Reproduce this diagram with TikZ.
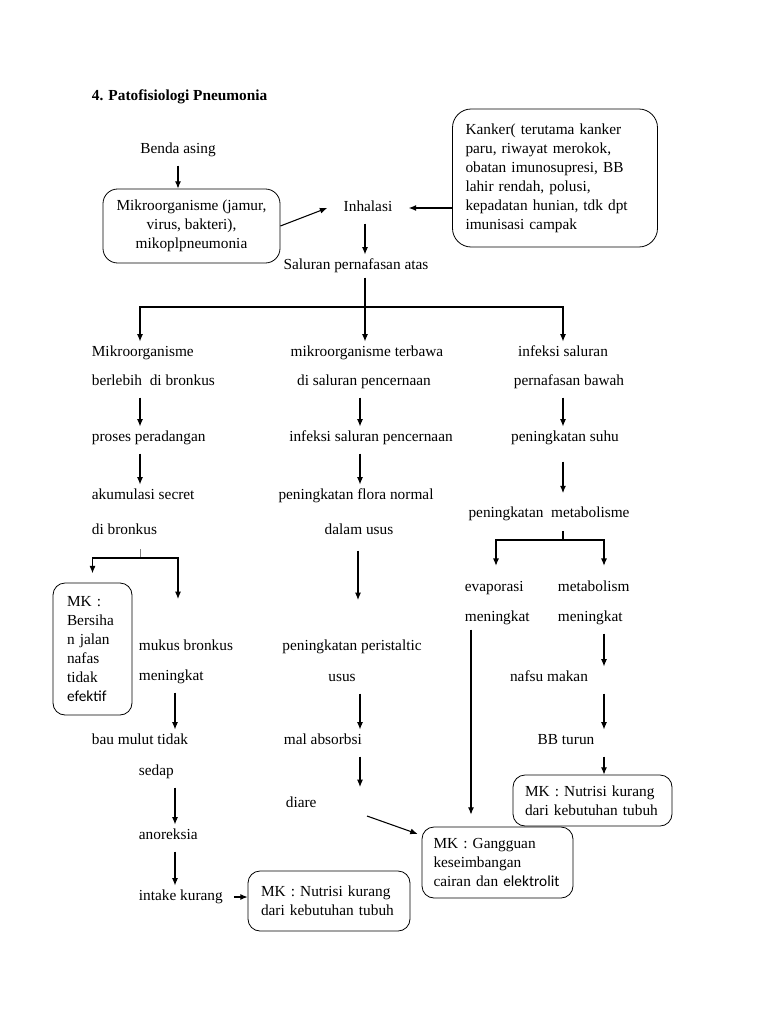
\documentclass[tikz,border=0pt]{standalone}
\usepackage{fontspec}
\setmainfont{Liberation Serif}
\newfontfamily\sansfont{Carlito}
\usetikzlibrary{arrows.meta}

\tikzset{
  txt/.style={inner xsep=1pt, inner ysep=3pt, text height=8pt, text depth=2.5pt, font=\fontsize{11.5}{14}\selectfont},
  lft/.style={txt, anchor=west},
  mkbox/.style={draw, semithick, rounded corners=9pt, align=left, inner ysep=0pt, font=\fontsize{11.5}{14.3}\selectfont},
  arr/.style={->, shorten <=3pt},
}

\begin{document}
\begin{tikzpicture}[x=0.75pt, y=-0.75pt, >={Latex[length=5.5pt,width=4.5pt]}, line width=0.8pt]
		\useasboundingbox (0,0) rectangle (768,1024);
		% kolom panah
		\coordinate (k1) at (140,0);
		\coordinate (k1b) at (175,0);
		\coordinate (k2) at (360,0);
		\coordinate (k2t) at (365,0);
		\coordinate (k3) at (563,0);
		\coordinate (k3a) at (496,0);
		\coordinate (k3b) at (604,0);
		\coordinate (k3e) at (471,0);
		% judul dan bagian atas
		\node[lft, font=\bfseries\fontsize{11.5}{14}\selectfont] (judul) at (90,97) {4. Patofisiologi Pneumonia};
		\node[txt] (benda) at (178,150) {Benda asing};
		\node[mkbox, align=center, rounded corners=11pt, minimum width=177*0.75pt, minimum height=74*0.75pt] (mikro) at (191.5,226) {Mikroorganisme (jamur,\\ virus, bakteri),\\ mikoplpneumonia};
		\node[mkbox, rounded corners=14pt, text width=179*0.75pt, inner xsep=13*0.75pt, minimum height=138*0.75pt] (kanker) at (555,178) {Kanker( terutama kanker\\ paru, riwayat merokok,\\ obatan imunosupresi, BB\\ lahir rendah, polusi,\\ kepadatan hunian, tdk dpt\\ imunisasi campak};
		\node[txt, inner xsep=12pt] (inhal) at (368,208) {Inhalasi};
		\node[txt] (sal) at (356,266) {Saluran pernafasan atas};
		\draw[arr] (benda.south) -- (benda.south |- mikro.north);
		\draw[->] (mikro.east) -- (inhal.west);
		\draw[->] (kanker.west |- inhal) -- (inhal.east);
		\draw[arr] (inhal.south -| k2t) -- (sal.north -| k2t);
		% kolom kiri
		\node[lft] (mik1) at (90,353) {Mikroorganisme};
		\node[lft] (ber) at (90,382) {berlebih\ \ di bronkus};
		\node[lft] (pro) at (90,438) {proses peradangan};
		\node[lft] (aku) at (90,496) {akumulasi secret};
		\node[lft] (dib) at (90,531) {di bronkus};
		\draw[arr] (ber.south -| k1) -- (pro.north -| k1);
		\draw[arr] (pro.south -| k1) -- (aku.north -| k1);
		\node[mkbox, text width=51*0.75pt, inner xsep=14*0.75pt, minimum height=132*0.75pt] (mkj) at (92.5,649) {MK :\\ Bersiha\\ n jalan\\ nafas\\ tidak\\ {\sansfont efektif}};
		\coordinate (cab1) at (140,558);
		\coordinate (ujung1) at (178,599);
		\draw[gray, thin, shorten <=5pt] (dib.south -| cab1) -- (cab1);
		\draw[->, shorten >=7pt] (cab1) -| (mkj.north);
		\draw[->] (cab1) -| (ujung1);
		\node[lft] (muk) at (137,647) {mukus bronkus};
		\node[lft] (mei1) at (137,677) {meningkat};
		\node[lft] (bau) at (90,741) {bau mulut tidak};
		\node[lft] (sed) at (137,772) {sedap};
		\node[lft] (ano) at (137,836) {anoreksia};
		\node[lft] (intk) at (137,897) {intake kurang};
		\draw[arr] (mei1.south -| k1b) -- (bau.north -| k1b);
		\draw[arr] (sed.south -| k1b) -- (ano.north -| k1b);
		\draw[arr] (ano.south -| k1b) -- (intk.north -| k1b);
		\node[mkbox, text width=136*0.75pt, inner xsep=13*0.75pt, minimum height=60*0.75pt] (nut1) at (329,901) {MK : Nutrisi kurang\\ dari kebutuhan tubuh};
		\draw[->, shorten <=7pt] (intk.east) -- (nut1.west |- intk);
		% kolom tengah
		\node[txt] (terb) at (367,353) {mikroorganisme terbawa};
		\node[txt] (dsal) at (364,382) {di saluran pencernaan};
		\node[txt] (infs) at (371,438) {infeksi saluran pencernaan};
		\node[txt] (flora) at (356,496) {peningkatan flora normal};
		\node[txt] (dalam) at (359,531) {dalam usus};
		\draw[arr] (dsal.south -| k2) -- (infs.north -| k2);
		\draw[arr] (infs.south -| k2) -- (flora.north -| k2);
		\coordinate (ujung2) at (358,600);
		\draw[arr, shorten <=6pt] (dalam.south -| ujung2) -- (ujung2);
		\node[txt] (peri) at (352,647) {peningkatan peristaltic};
		\node[txt] (usus) at (342,678) {usus};
		\node[lft] (mal) at (282,741) {mal absorbsi};
		\node[lft] (diare) at (284,804) {diare};
		\draw[arr] (usus.south -| k2) -- (mal.north -| k2);
		\coordinate (ujung3) at (360,787);
		\draw[arr] (mal.south -| ujung3) -- (ujung3);
		\node[mkbox, text width=128*0.75pt, inner xsep=11.5*0.75pt, minimum height=71*0.75pt] (gang) at (497.5,862.5) {MK : Gangguan\\ keseimbangan\\ cairan dan {\sansfont elektrolit}};
		\coordinate (d1) at (367,816);
		\draw[->] (d1) -- ([xshift=-3pt, yshift=-5.5pt]gang.north west);
		% kolom kanan
		\node[txt] (inf3) at (563,353) {infeksi saluran};
		\node[txt] (perb) at (569,382) {pernafasan bawah};
		\node[txt] (suhu) at (565,438) {peningkatan suhu};
		\node[txt] (meta) at (549,514) {peningkatan\ \ metabolisme};
		\draw[arr] (perb.south -| k3) -- (suhu.north -| k3);
		\draw[->, shorten <=9pt, shorten >=7pt] (suhu.south -| k3) -- (meta.north -| k3);
		\node[lft] (evap) at (463,588) {evaporasi};
		\node[lft] (mei2) at (463,618) {meningkat};
		\node[lft] (metb) at (556,588) {metabolism};
		\node[lft] (mei3) at (556,618) {meningkat};
		\coordinate (cab3) at (563,540);
		\draw[shorten <=4pt] (meta.south -| cab3) -- (cab3);
		\draw[->, shorten >=8pt] (cab3) -| (evap.north -| k3a);
		\draw[->, shorten >=8pt] (cab3) -| (metb.north -| k3b);
		\node[txt] (nafsu) at (549,678) {nafsu makan};
		\node[txt] (bb) at (566,741) {BB turun};
		\node[mkbox, text width=135*0.75pt, inner xsep=12*0.75pt, minimum height=51*0.75pt] (nut2) at (592.5,800.5) {MK : Nutrisi kurang\\ dari kebutuhan tubuh};
		\draw[->, shorten >=9pt] (mei2.south -| k3e) -- (gang.north -| k3e);
		\draw[arr] (mei3.south -| k3b) -- (nafsu.north -| k3b);
		\draw[arr] (nafsu.south -| k3b) -- (bb.north -| k3b);
		\draw[arr] (bb.south -| k3b) -- (nut2.north -| k3b);
		% cabang dari saluran pernafasan atas
		\coordinate (cab) at (365,307);
		\draw (sal.south -| cab) -- (cab);
		\draw[->] (cab) -| (mik1.north -| k1);
		\draw[->] (cab) -| (inf3.north -| k3);
		\draw[->] (cab) -- (terb.north -| cab);
	\end{tikzpicture}
\end{document}
